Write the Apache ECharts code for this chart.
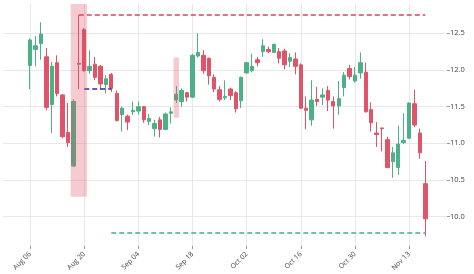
<!DOCTYPE html>
<html>
<head>
<meta charset="utf-8">
<script src="https://cdn.jsdelivr.net/npm/echarts@6/dist/echarts.min.js"></script>
<style>
  html, body { margin: 0; padding: 0; background: #fff; }
  #candleChart { width: 474px; height: 274px; }
</style>
</head>
<body>
<div id="candleChart"></div>
<script>
// trading days shown on the chart
const dates = [
  'Aug 06', 'Aug 07', 'Aug 08', 'Aug 09', 'Aug 10', 'Aug 13', 'Aug 14', 'Aug 15', 'Aug 16', 'Aug 17',
  'Aug 20', 'Aug 21', 'Aug 22', 'Aug 23', 'Aug 24', 'Aug 27', 'Aug 28', 'Aug 29', 'Aug 30', 'Aug 31',
  'Sep 04', 'Sep 05', 'Sep 06', 'Sep 07', 'Sep 10', 'Sep 11', 'Sep 12', 'Sep 13', 'Sep 14', 'Sep 17',
  'Sep 18', 'Sep 19', 'Sep 20', 'Sep 21', 'Sep 24', 'Sep 25', 'Sep 26', 'Sep 27', 'Sep 28', 'Oct 01',
  'Oct 02', 'Oct 03', 'Oct 04', 'Oct 05', 'Oct 08', 'Oct 09', 'Oct 10', 'Oct 11', 'Oct 12', 'Oct 15',
  'Oct 16', 'Oct 17', 'Oct 18', 'Oct 19', 'Oct 22', 'Oct 23', 'Oct 24', 'Oct 25', 'Oct 26', 'Oct 29',
  'Oct 30', 'Oct 31', 'Nov 01', 'Nov 02', 'Nov 05', 'Nov 06', 'Nov 07', 'Nov 08', 'Nov 09', 'Nov 12',
  'Nov 13', 'Nov 14', 'Nov 15', 'Nov 16'
];
const tickDates = ['Aug 06', 'Aug 20', 'Sep 04', 'Sep 18', 'Oct 02', 'Oct 16', 'Oct 30', 'Nov 13'];
const priceTicks = [10.0, 10.5, 11.0, 11.5, 12.0, 12.5];

const open = [
  12.06, 12.28, 12.36, 12.18, 11.53, 12.10, 11.66, 11.15, 10.69, 12.09,
  12.55, 11.99, 12.08, 12.05, 11.80, 11.94, 11.68, 11.39, 11.37, 11.43,
  11.44, 11.50, 11.30, 11.20, 11.32, 11.19, 11.41, 11.59, 11.57, 11.69,
  11.63, 12.19, 12.20, 12.16, 11.90, 11.73, 11.62, 11.74, 11.69, 11.58,
  11.96, 11.99, 12.14, 12.25, 12.28, 12.24, 12.25, 12.26, 12.12, 12.15,
  12.07, 11.48, 11.32, 11.60, 11.63, 11.72, 11.57, 11.51, 11.76, 12.02,
  11.85, 11.96, 11.97, 11.46, 11.14, 11.21, 11.05, 10.75, 10.67, 11.01,
  11.07, 11.54, 11.14, 10.45
];
const close = [
  12.41, 12.33, 12.49, 11.49, 12.05, 11.68, 11.09, 11.01, 11.57, 12.08,
  11.99, 12.05, 11.90, 11.81, 11.88, 11.75, 11.31, 11.48, 11.29, 11.45,
  11.50, 11.32, 11.34, 11.27, 11.19, 11.40, 11.43, 11.67, 11.72, 11.63,
  12.20, 12.24, 11.99, 11.92, 11.74, 11.60, 11.64, 11.65, 11.47, 11.90,
  12.10, 12.05, 12.10, 12.33, 12.25, 12.35, 12.16, 12.07, 12.17, 12.05,
  11.48, 11.45, 11.59, 11.57, 11.66, 11.59, 11.51, 11.61, 11.93, 11.91,
  11.93, 12.10, 11.43, 11.28, 11.12, 11.20, 10.67, 10.87, 10.99, 11.04,
  11.55, 11.25, 10.87, 9.97
];
const low = [
  11.74, 12.05, 12.14, 11.45, 11.14, 11.64, 11.07, 10.95, 10.68, 11.74,
  11.98, 11.95, 11.86, 11.73, 11.68, 11.70, 11.30, 11.16, 11.18, 11.39,
  11.39, 11.28, 11.25, 11.09, 11.08, 11.18, 11.27, 11.55, 11.50, 11.57,
  11.62, 12.17, 11.95, 11.80, 11.70, 11.57, 11.59, 11.59, 11.42, 11.48,
  11.95, 11.97, 12.05, 12.18, 12.23, 12.23, 12.09, 12.01, 12.04, 11.94,
  11.47, 11.19, 11.24, 11.51, 11.52, 11.44, 11.20, 11.39, 11.64, 11.87,
  11.83, 11.88, 11.42, 11.16, 10.95, 10.89, 10.66, 10.53, 10.57, 10.99,
  11.06, 11.22, 10.79, 9.73
];
const high = [
  12.43, 12.46, 12.65, 12.30, 12.11, 12.20, 11.67, 11.55, 11.60, 12.75,
  12.57, 12.27, 12.18, 12.07, 11.93, 11.96, 11.72, 11.50, 11.39, 11.57,
  11.57, 11.51, 11.40, 11.32, 11.36, 11.42, 11.49, 11.78, 11.75, 11.70,
  12.22, 12.50, 12.27, 12.17, 11.94, 11.78, 11.86, 11.76, 11.71, 11.91,
  12.11, 12.22, 12.18, 12.42, 12.32, 12.36, 12.30, 12.29, 12.23, 12.24,
  12.09, 11.64, 11.86, 11.77, 11.75, 11.78, 11.64, 11.85, 11.97, 12.07,
  12.04, 12.24, 12.10, 11.56, 11.29, 11.21, 11.09, 10.95, 11.24, 11.41,
  11.56, 11.73, 11.20, 10.76
];

// highlighted pattern zones: [from, to, top, bottom]
const zones = [
  ['Aug 16', 'Aug 20', 12.90, 10.27],
  ['Sep 13', 'Sep 13', 12.17, 11.35]
];
// level lines: [from, to, value]
const resistance = ['Aug 17', 'Nov 16', 12.75];
const breakLevel = ['Aug 20', 'Aug 27', 11.75];
const support = ['Aug 27', 'Nov 16', 9.78];

const upColor = '#4cb088';
const downColor = '#df5468';

// plot has some empty room either side of the candles
const padBefore = ['p0', 'p1', 'p2', 'p3', 'p4'];
const padAfter = ['q0', 'q1', 'q2', 'q3'];
const categories = padBefore.concat(dates, padAfter);
const ohlc = padBefore.map(() => '-').concat(
  dates.map((d, i) => [open[i], close[i], low[i], high[i]]),
  padAfter.map(() => '-')
);
const showTick = (idx, val) => tickDates.indexOf(val) >= 0;

function levelLine(item, color) {
  return [
    { coord: [item[0], item[2]], lineStyle: { color: color, width: 1.5, type: [5, 3] } },
    { coord: [item[1], item[2]] }
  ];
}

let chart = echarts.init(document.getElementById('candleChart'));
chart.setOption({
  animation: false,
  backgroundColor: '#fff',
  textStyle: { fontFamily: 'Open Sans' },
  grid: { left: 3, right: 27, top: 4, bottom: 28 },
  xAxis: {
    type: 'category',
    data: categories,
    boundaryGap: false,
    axisLine: { show: false },
    axisTick: { show: true, interval: showTick, length: 3, lineStyle: { color: '#999' } },
    axisLabel: {
      interval: showTick,
      rotate: 45,
      fontSize: 7,
      color: '#444',
      margin: 7
    },
    splitLine: { show: true, interval: showTick, lineStyle: { color: '#e8e8e8' } }
  },
  yAxis: {
    type: 'value',
    position: 'right',
    min: 9.6,
    max: 12.9,
    axisLine: { show: false },
    axisTick: { show: true, length: 3, customValues: priceTicks, lineStyle: { color: '#999' } },
    axisLabel: {
      fontSize: 7.5,
      color: '#444',
      margin: 3,
      customValues: priceTicks,
      formatter: v => v.toFixed(1)
    },
    splitLine: { lineStyle: { color: '#e8e8e8' } }
  },
  series: [
    {
      type: 'candlestick',
      data: ohlc,
      barWidth: '72%',
      itemStyle: {
        color: upColor,
        color0: downColor,
        borderColor: upColor,
        borderColor0: downColor,
        borderWidth: 1
      },
      markLine: {
        silent: true,
        symbol: 'none',
        label: { show: false },
        data: [
          levelLine(resistance, '#d9455f'),
          levelLine(breakLevel, '#2b2bb0'),
          levelLine(support, '#45b084')
        ]
      }
    },
    {
      type: 'custom',
      data: zones,
      encode: { x: [0, 1], y: [2, 3] },
      z: 5,
      silent: true,
      renderItem: function (params, api) {
        const a = api.coord([api.value(0), api.value(2)]);
        const b = api.coord([api.value(1), api.value(3)]);
        const w = api.size([1, 0])[0];
        return {
          type: 'rect',
          shape: { x: a[0] - w / 2, y: a[1], width: b[0] - a[0] + w, height: b[1] - a[1] },
          style: { fill: 'rgba(222, 80, 100, 0.3)' }
        };
      }
    }
  ]
});
window.addEventListener('resize', function () {
  chart.resize();
});
</script>
</body>
</html>
